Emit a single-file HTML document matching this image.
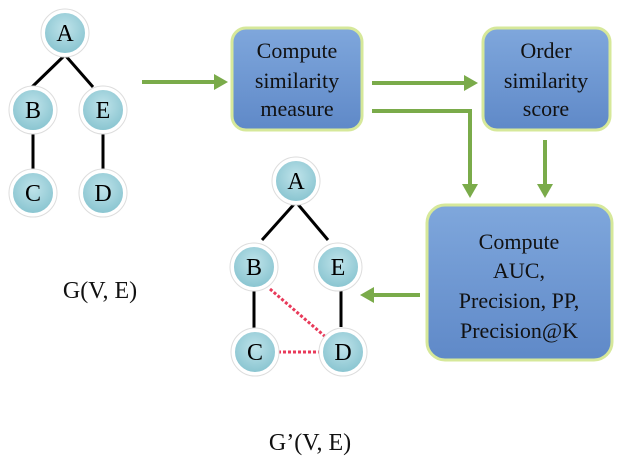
<!DOCTYPE html>
<html><head><style>
body{margin:0;background:#fff;width:619px;height:470px;overflow:hidden;font-family:"Liberation Serif",serif;}
svg{position:absolute;left:0;top:0}
</style></head><body>
<svg width="619" height="470" viewBox="0 0 619 470">
<defs>
<radialGradient id="nd" cx="50%" cy="40%" r="60%"><stop offset="0" stop-color="#bfe3ea"/><stop offset="1" stop-color="#86c3cf"/></radialGradient>
<linearGradient id="bx" x1="0" y1="0" x2="0" y2="1"><stop offset="0" stop-color="#7fa7dc"/><stop offset="1" stop-color="#5f89c8"/></linearGradient>
</defs>
<g stroke="#000" stroke-width="3">
<line x1="65" y1="55" x2="32" y2="87"/><line x1="65" y1="55" x2="93" y2="87"/>
<line x1="33" y1="130" x2="33" y2="172"/><line x1="103" y1="130" x2="103" y2="172"/>
<line x1="296" y1="202" x2="262" y2="240"/><line x1="296" y1="202" x2="328" y2="240"/>
<line x1="254" y1="290" x2="254" y2="330"/><line x1="341" y1="290" x2="341" y2="327"/>
</g>
<g stroke="#e83a5a" stroke-width="3" stroke-dasharray="3,2">
<line x1="270" y1="289" x2="328" y2="339"/><line x1="278" y1="352" x2="322" y2="352"/>
</g>
<g fill="url(#nd)" stroke="#fff" stroke-width="4">
<circle cx="65" cy="33" r="22"/><circle cx="33" cy="110" r="22"/><circle cx="103" cy="110" r="22"/>
<circle cx="33" cy="193" r="22"/><circle cx="103" cy="193" r="22"/>
<circle cx="296" cy="181" r="22"/><circle cx="254" cy="267" r="22"/><circle cx="338" cy="267" r="22"/>
<circle cx="255" cy="352" r="22"/><circle cx="343" cy="352" r="22"/>
</g>
<g stroke="#ddd" stroke-width="1" fill="none">
<circle cx="65" cy="33" r="24"/><circle cx="33" cy="110" r="24"/><circle cx="103" cy="110" r="24"/>
<circle cx="33" cy="193" r="24"/><circle cx="103" cy="193" r="24"/>
<circle cx="296" cy="181" r="24"/><circle cx="254" cy="267" r="24"/><circle cx="338" cy="267" r="24"/>
<circle cx="255" cy="352" r="24"/><circle cx="343" cy="352" r="24"/>
</g>
<g font-size="24" text-anchor="middle" fill="#000">
<text x="65" y="41">A</text><text x="33" y="118">B</text><text x="103" y="118">E</text>
<text x="33" y="201">C</text><text x="103" y="201">D</text>
<text x="296" y="189">A</text><text x="254" y="275">B</text><text x="338" y="275">E</text>
<text x="255" y="360">C</text><text x="343" y="360">D</text>
</g>
<g stroke="#7aab4a" stroke-width="4" fill="none">
<line x1="142" y1="82" x2="218" y2="82"/>
<line x1="372" y1="83" x2="468" y2="83"/>
<polyline points="372,111 470,111 470,188"/>
<line x1="545" y1="140" x2="545" y2="188"/>
<line x1="420" y1="295" x2="370" y2="295"/>
</g>
<g fill="#7aab4a">
<polygon points="228,82 214,74 214,90"/>
<polygon points="478,83 464,75 464,91"/>
<polygon points="470,198 462,184 478,184"/>
<polygon points="545,198 537,184 553,184"/>
<polygon points="360,295 374,287 374,303"/>
</g>
<g stroke="#d6e89a" stroke-width="3" fill="url(#bx)">
<rect x="232" y="28" width="130" height="102" rx="14"/>
<rect x="483" y="28" width="127" height="102" rx="14"/>
<rect x="427" y="205" width="185" height="155" rx="18"/>
</g>
<g font-size="22" text-anchor="middle" fill="#111">
<text x="297" y="58">Compute</text><text x="297" y="88">similarity</text><text x="297" y="116">measure</text>
<text x="546" y="58">Order</text><text x="546" y="88">similarity</text><text x="546" y="116">score</text>
<text x="519" y="249">Compute</text><text x="519" y="278">AUC,</text><text x="519" y="308">Precision, PP,</text><text x="519" y="338">Precision@K</text>
<text x="100" y="298" font-size="24">G(V, E)</text>
<text x="310" y="450" font-size="24">G’(V, E)</text>
</g>
</svg>
</body></html>
